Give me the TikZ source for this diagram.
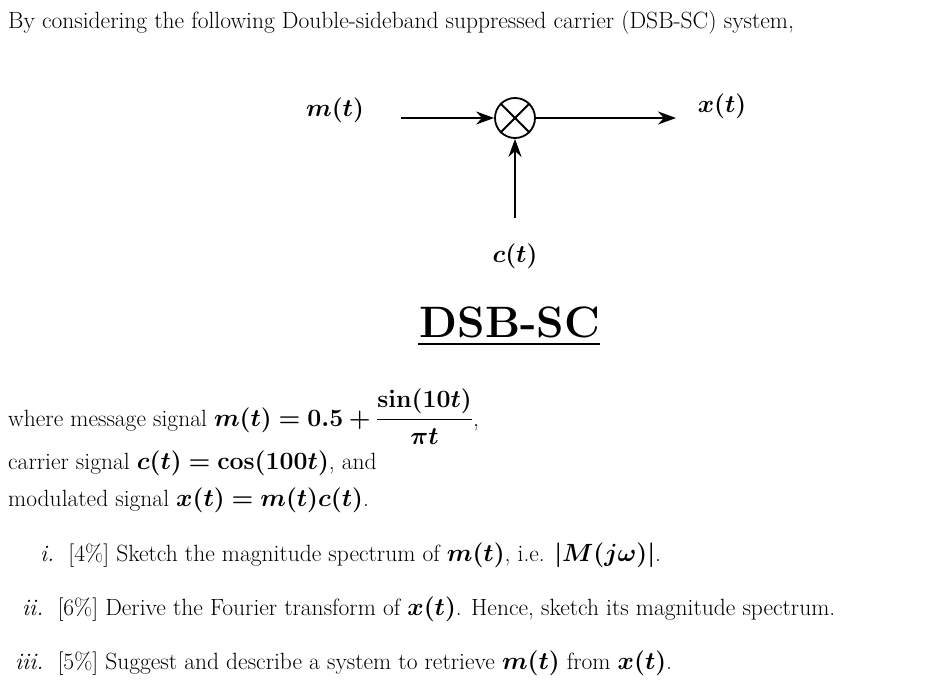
\documentclass[tikz,border=0pt]{standalone}
\usepackage{amsmath,bm}
\usetikzlibrary{arrows.meta}
\begin{document}
\begin{tikzpicture}[x=1pt,y=-1pt,
  txt/.style={anchor=base west,inner sep=0pt,font=\fontsize{23.5}{26}\selectfont},
  big/.style={inner sep=0pt,font=\fontsize{52}{56}\selectfont},
  arr/.style={line width=1.8pt,-{Stealth[length=18pt,width=13pt]}}]
\useasboundingbox (0,0) rectangle (938,688);
\node[txt] (t0) at (8,28) {By considering the following Double-sideband suppressed carrier (DSB-SC) system,};
\node[big] (m) at (335,110) {$\bm{m(t)}$};
\node[draw,circle,line width=1.8pt,minimum size=40pt,inner sep=0pt] (mix) at (515,118) {};
\draw[line width=1.8pt] (mix.north west)--(mix.south east) (mix.north east)--(mix.south west);
\node[big] (x) at (722,106) {$\bm{x(t)}$};
\coordinate (cin) at (515,218);
\coordinate (min) at (401,118);
\coordinate (xout) at (676,118);
\node[big] (c) at (515,256) {$\bm{c(t)}$};
\draw[arr] (min) -- (mix.west);
\draw[arr] (mix.east) -- (xout);
\draw[arr] (cin) -- (mix.south);
\node[inner sep=0pt,font=\fontsize{44}{46}\selectfont\bfseries] (dsb) at (510,322) {DSB-SC};
\draw[line width=1.6pt] (418,344) -- (600,344);
\node[txt] (l1) at (8,426) {where message signal $\bm{m(t)=0.5+\dfrac{\sin(10t)}{\pi t}}$,};
\node[txt] (l2) at (8,469) {carrier signal $\bm{c(t)=\cos(100t)}$, and};
\node[txt] (l3) at (8,506) {modulated signal $\bm{x(t)=m(t)c(t)}$.};
\node[txt] (i1) at (40,561) {\textit{i.}\ \ [4\%] Sketch the magnitude spectrum of $\bm{m(t)}$, i.e. $\bm{|M(j\omega)|}$.};
\node[txt] (i2) at (22,615) {\textit{ii.}\ \ [6\%] Derive the Fourier transform of $\bm{x(t)}$. Hence, sketch its magnitude spectrum.};
\node[txt] (i3) at (15,669) {\textit{iii.}\ \ [5\%] Suggest and describe a system to retrieve $\bm{m(t)}$ from $\bm{x(t)}$.};
\end{tikzpicture}
\end{document}
